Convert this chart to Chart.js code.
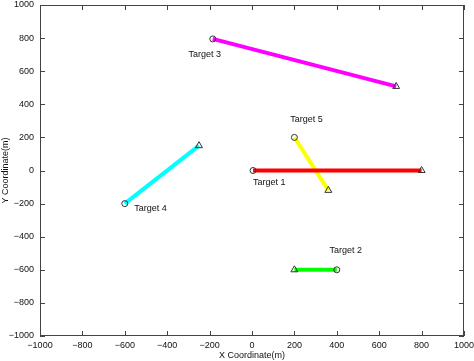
<!DOCTYPE html>
<html><head><meta charset="utf-8">
<script src="https://cdn.jsdelivr.net/npm/chart.js@4"></script>
<style>html,body{margin:0;padding:0;background:#fff}#w{width:474px;height:361px}</style>
</head><body><div id="w"><canvas id="c"></canvas></div>
<script>
const targetNames = ['Target 1','Target 2','Target 3','Target 4','Target 5'];
const startX = [5, 400, -185, -600, 200];
const startY = [0, -600, 795, -200, 200];
const endX = [800, 200, 680, -250, 360];
const endY = [0, -600, 508, 150, -120];
const labelX = [5, 365, -300, -555, 180];
const labelY = [-70, -485, 700, -232, 310];
const lineColors = ['#ff0000','#00ff00','#ff00ff','#00ffff','#ffff00'];
const tickValues = [-1000,-800,-600,-400,-200,0,200,400,600,800,1000];

const FONT = 'Liberation Sans, Arial, sans-serif';
const datasets = targetNames.map((n,i)=>({
  label:n,
  data:[{x:startX[i],y:startY[i]},{x:endX[i],y:endY[i]}],
  showLine:true,
  borderColor:lineColors[i],
  borderWidth:4,
  pointStyle:['circle','triangle'],
  pointRadius:[3,4],
  pointBorderColor:'#333',
  pointBorderWidth:1,
  pointBackgroundColor:'rgba(255,255,255,0)'
}));

const frame = {
  id:'frame',
  afterDatasetsDraw(chart){
    const {ctx, chartArea:a, scales:{x,y}} = chart;
    ctx.save();
    ctx.strokeStyle='#444'; ctx.lineWidth=1;
    ctx.strokeRect(a.left+0.5,a.top+0.5,a.right-a.left-1,a.bottom-a.top-1);
    const L=5;
    ctx.beginPath();
    tickValues.forEach(v=>{
      const px=Math.round(x.getPixelForValue(v))+0.5;
      ctx.moveTo(px,a.bottom); ctx.lineTo(px,a.bottom-L);
      ctx.moveTo(px,a.top); ctx.lineTo(px,a.top+L);
      const py=Math.round(y.getPixelForValue(v))+0.5;
      ctx.moveTo(a.left,py); ctx.lineTo(a.left+L,py);
      ctx.moveTo(a.right,py); ctx.lineTo(a.right-L,py);
    });
    ctx.stroke();
    ctx.fillStyle='#111'; ctx.font='9px '+FONT; ctx.textAlign='left'; ctx.textBaseline='middle';
    targetNames.forEach((n,i)=>{
      ctx.fillText(n, x.getPixelForValue(labelX[i]), y.getPixelForValue(labelY[i]));
    });
    ctx.restore();
  }
};

const fmt = v => String(v).replace('-','\u2212');
new Chart(document.getElementById('c'),{
  type:'scatter',
  data:{datasets},
  options:{
    responsive:true, maintainAspectRatio:false, animation:false,
    layout:{padding:{left:0,right:10,top:4,bottom:0}},
    plugins:{legend:{display:false},tooltip:{enabled:false}},
    scales:{
      x:{type:'linear',min:-1000,max:1000,
        afterBuildTicks(s){s.ticks=tickValues.map(v=>({value:v}));},
        afterFit(s){s.height=25;s.paddingLeft=0;s.paddingRight=0;},
        grid:{display:false,drawTicks:false}, border:{display:false},
        ticks:{font:{family:FONT,size:9},color:'#111',padding:4,maxRotation:0,callback:fmt},
        title:{display:true,text:'X Coordinate(m)',font:{family:FONT,size:9},color:'#111',padding:{top:0,bottom:0}}
      },
      y:{type:'linear',min:-1000,max:1000,
        afterBuildTicks(s){s.ticks=tickValues.map(v=>({value:v}));},
        afterFit(s){s.width=40;s.paddingTop=0;s.paddingBottom=0;},
        grid:{display:false,drawTicks:false}, border:{display:false},
        ticks:{font:{family:FONT,size:9},color:'#111',padding:6,callback:fmt},
        title:{display:true,text:'Y Coordinate(m)',font:{family:FONT,size:9},color:'#111',padding:{top:0,bottom:0}}
      }
    }
  },
  plugins:[frame]
});
</script></body></html>
